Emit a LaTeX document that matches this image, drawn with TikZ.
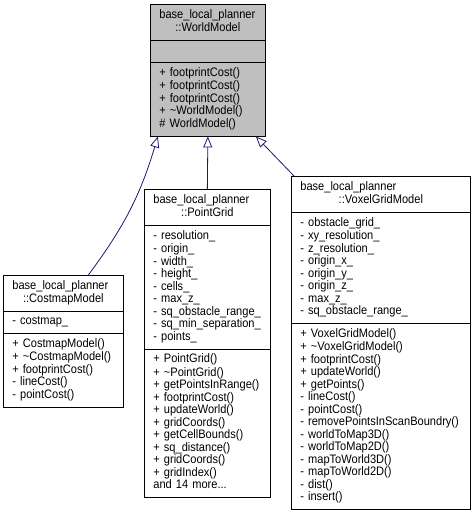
\documentclass[tikz,border=0pt]{standalone}
\usepackage{fontspec}
\setmainfont[FakeStretch=0.9]{Liberation Sans}
\usetikzlibrary{shapes.multipart,arrows.meta}

\definecolor{navyblue}{HTML}{191970}
\definecolor{basegray}{HTML}{BFBFBF}

\newcommand{\clsname}[1]{\strut base\_local\_planner\par{\centering\strut ::#1\strut\par}}

\tikzset{
    classbox/.style={rectangle split, rectangle split parts=3, draw, line width=0.7pt,
        fill=white, anchor=north west, inner xsep=9pt, inner ysep=4.5pt, align=left,
        font=\fontsize{12.3}{12.5}\selectfont},
    inherit/.style={draw=navyblue, line width=0.8pt, -{Triangle[open,length=11pt,width=9pt]}}
}

\begin{document}
\begin{tikzpicture}[x=1pt, y=1pt]
    \useasboundingbox (0,0) rectangle (474,511);

    % Base class
    \node[classbox, fill=basegray, text width=97pt] (wmodel) at (150,507) {\clsname{WorldModel}
        \nodepart{two}\strut
        \nodepart{three}\strut + footprintCost()\\ + footprintCost()\\ + footprintCost()\\
        + \textasciitilde WorldModel()\\ \# WorldModel()\strut};

    % Costmap model
    \node[classbox, text width=102pt] (cmodel) at (3,236) {\clsname{CostmapModel}
        \nodepart{two}\strut - costmap\_\strut
        \nodepart{three}\strut + CostmapModel()\\ + \textasciitilde CostmapModel()\\
        + footprintCost()\\ - lineCost()\\ - pointCost()\strut};

    % Point grid
    \node[classbox, text width=108pt] (pgrid) at (144,322) {\clsname{PointGrid}
        \nodepart{two}\strut - resolution\_\\ - origin\_\\ - width\_\\ - height\_\\ - cells\_\\
        - max\_z\_\\ - sq\_obstacle\_range\_\\ - sq\_min\_separation\_\\ - points\_\strut
        \nodepart{three}\strut + PointGrid()\\ + \textasciitilde PointGrid()\\ + getPointsInRange()\\
        + footprintCost()\\ + updateWorld()\\ + gridCoords()\\ + getCellBounds()\\
        + sq\_distance()\\ + gridCoords()\\ + gridIndex()\\ and 14 more...\strut};

    % Voxel grid model
    \node[classbox, text width=161pt] (vmodel) at (291,335) {\clsname{VoxelGridModel}
        \nodepart{two}\strut - obstacle\_grid\_\\ - xy\_resolution\_\\ - z\_resolution\_\\
        - origin\_x\_\\ - origin\_y\_\\ - origin\_z\_\\ - max\_z\_\\ - sq\_obstacle\_range\_\strut
        \nodepart{three}\strut + VoxelGridModel()\\ + \textasciitilde VoxelGridModel()\\
        + footprintCost()\\ + updateWorld()\\ + getPoints()\\ - lineCost()\\ - pointCost()\\
        - removePointsInScanBoundry()\\ - worldToMap3D()\\ - worldToMap2D()\\
        - mapToWorld3D()\\ - mapToWorld2D()\\ - dist()\\ - insert()\strut};

    % Inheritance
    \draw[inherit] ([xshift=25pt]cmodel.north) to[bend right=10] ([xshift=-50pt]wmodel.south);
    \draw[inherit] (pgrid.north) -- (wmodel.south);
    \draw[inherit] ([xshift=3pt]vmodel.north west) -- ([xshift=48pt]wmodel.south);
\end{tikzpicture}
\end{document}
